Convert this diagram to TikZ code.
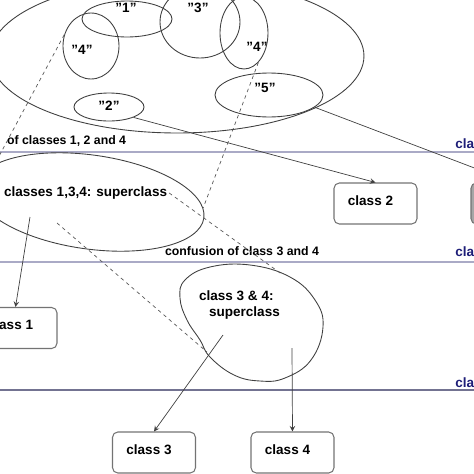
\documentclass[tikz,border=0pt]{standalone}
\usepackage{fontspec}
\setmainfont{Liberation Sans}
\usetikzlibrary{calc,shapes}
\definecolor{rulec}{RGB}{170,170,198}
\definecolor{rulecd}{RGB}{115,115,145}
\definecolor{navy}{RGB}{30,30,120}

\begin{document}
\begin{tikzpicture}[x=0.02cm, y=-0.02cm, >=stealth,
el/.style={ellipse, draw=black!75, line width=0.5pt, inner sep=0},
cls/.style={draw=black!55, line width=0.6pt, rounded corners=3pt, minimum width=1.66cm, minimum height=0.82cm, text depth=3.4pt, font=\bfseries\fontsize{7.7}{9}\selectfont, execute at end node=\hspace{0.2cm}},
lab/.style={font=\bfseries\fontsize{7.7}{9}\selectfont, inner sep=1pt},
conf/.style={font=\bfseries\fontsize{7}{8}\selectfont, inner sep=1pt},
lvl/.style={anchor=west, text=navy, font=\bfseries\fontsize{7.7}{8}\selectfont, inner sep=0},
hl/.style={draw=rulec, line width=0.6pt},
dl/.style={draw=black!65, line width=0.4pt, dash pattern=on 2pt off 2pt},
ar/.style={->, draw=black!75, line width=0.4pt}]
	\useasboundingbox (0,0) rectangle (474,474);
	\clip (0,0) rectangle (474,474);

	% sets of the first level
	\node[el, minimum width=7.48cm, minimum height=3.08cm] at (177,56) (e0) {};
	\node[el, minimum width=1.8cm, minimum height=0.72cm] at (127,19) (e1) {};
	\node[el, minimum width=1.6cm, minimum height=1.44cm] at (200,22) (e3) {};
	\node[el, minimum width=1.12cm, minimum height=1.32cm] at (91,46) (e4a) {};
	\node[el, minimum width=0.96cm, minimum height=1.44cm] at (244,33) (e4b) {};
	\node[el, minimum width=1.4cm, minimum height=0.56cm] at (109,107) (e2) {};
	\node[el, minimum width=2.16cm, minimum height=0.88cm] at (269,95) (e5) {};
	\node[lab] at (126,8) (t1) {"1"};
	\node[lab] at (198,8) (t3) {"3"};
	\node[lab] at (82,50) (t4a) {"4"};
	\node[lab] at (257,47) (t4b) {"4"};
	\node[lab] at (109,106) (t2) {"2"};
	\node[lab] at (265,88) (t5) {"5"};

	\draw[hl] (0,152) -- (474,152);
	\draw[hl] (0,262) -- (474,262);
	\draw[hl, draw=rulecd] (0,390) -- (474,390);
	\node[conf, anchor=west] at (5,141) (cf1) {of classes 1, 2 and 4};
	\node[conf] at (242,251) (cf2) {confusion of class 3 and 4};
	\node[lvl] at (455,144) (lv1) {cla};
	\node[lvl] at (455,252) (lv2) {cla};
	\node[lvl] at (455,383) (lv3) {cla};

	% superclasses
	\node[el, rotate=-8, minimum width=4.6cm, minimum height=1.88cm] at (90,202) (sup) {};
	\node[lab, anchor=west] at (2,193) (supl) {classes 1,3,4: superclass};
	\draw[draw=black!75, line width=0.5pt] plot[smooth cycle, tension=0.7] coordinates {(250,265) (290,277) (315,300) (323,327) (311,360) (285,378) (260,381) (234,375) (210,357) (200,340) (187,320) (180,298) (185,280) (210,267)};
	\node[lab, align=left, anchor=north west] at (197,289) (b34) {class 3 \& 4:\\\hspace*{5.7pt}superclass};
	\coordinate (b34t) at (283,275);
	\coordinate (b34l) at (207,352);
	\coordinate (s1) at (57,223);
	\coordinate (a1) at (-10,173);
	\coordinate (p1) at (30,217);
	\coordinate (p3) at (223,335);
	\coordinate (p4) at (292,348);

	% classes
	\node[cls] at (15.5,328) (c1) {class 1};
	\node[cls] at (375.5,203.5) (c2) {class 2};
	\node[cls] at (154,452.5) (c3) {class 3};
	\node[cls] at (292.5,452.5) (c4) {class 4};
	\node[cls, fill=black!35] at (512.5,203.5) (c5) {};

	\draw[ar] (e2.-23) -- (c2.north);
	\draw[ar] (e5.-15) -- (c5.north);
	\draw[ar] (p1) -- (c1.north);
	\draw[ar] (p3) -- (c3.north);
	\draw[ar] (p4) -- (c4.north);
	\draw[dl] (e4a.157) -- (a1);
	\draw[dl] (e4b.-64) -- (sup.5);
	\draw[dl] (supl.east) -- (b34t);
	\draw[dl] (s1) -- (b34l);
\end{tikzpicture}
\end{document}
